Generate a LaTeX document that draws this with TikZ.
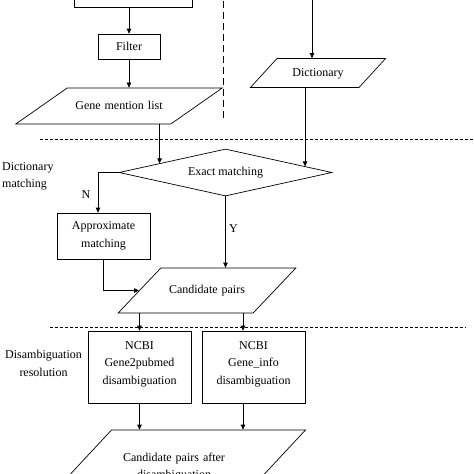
\documentclass[tikz,border=0pt]{standalone}
\usepackage{fontspec}
\setmainfont{Liberation Serif}
\usetikzlibrary{shapes.geometric,arrows.meta,calc}

\begin{document}
\begin{tikzpicture}[x=1pt,y=-1pt,
	every node/.style={font=\fontsize{12}{17.5}\selectfont},
	stepbox/.style={draw,line width=0.7pt,rectangle,align=center,inner sep=0pt},
	databox/.style={draw,line width=0.7pt,trapezium,align=center,inner xsep=0pt},
	oneline/.style={text height=8.5pt,text depth=2.5pt},
	testbox/.style={draw,line width=0.7pt,diamond,inner sep=0pt},
	flow/.style={line width=0.7pt,-{Triangle[length=5pt,width=4.5pt]}},
	sepline/.style={line width=0.6pt,dash pattern=on 3pt off 2pt}]
	% frame of the figure
	\useasboundingbox (0,0) rectangle (474,474);
	\clip (0,0) rectangle (474,474);
	
	% separators between the stages
	\draw[line width=0.6pt,dash pattern=on 7pt off 4pt] (223,-10) -- (223,118);
	\draw[sepline] (40,139) -- (474,139);
	\draw[sepline] (50,327) -- (466,327);
	
	% stage labels
	\node[align=left,anchor=west,inner sep=0pt] (lbldict) at (2,176.5) {Dictionary\\matching};
	\node[align=center,inner sep=0pt] (lbldis) at (43.5,363.5) {Disambiguation\\resolution};
	
	% boxes
	\node[stepbox,minimum width=118pt,minimum height=40pt] (ner) at (133,-13) {};
	\node[stepbox,minimum width=62pt,minimum height=25pt] (filter) at (129,46.5) {Filter};
	\node[databox,oneline,trapezium left angle=35,trapezium right angle=145,text width=103.6pt,inner ysep=12.5pt] (genelist) at (119,106) {Gene mention list};
	\node[databox,oneline,trapezium left angle=47.5,trapezium right angle=132.5,text width=82pt,inner ysep=9pt] (dict) at (318,73) {Dictionary};
	\node[testbox,aspect=4.53,minimum width=213pt,minimum height=47pt] (exact) at (225.5,172.5) {Exact matching};
	\node[stepbox,minimum width=93pt,minimum height=46pt] (approx) at (103.5,236) {Approximate\\matching};
	\node[databox,oneline,trapezium left angle=46.5,trapezium right angle=133.5,text width=92.3pt,inner ysep=17pt] (cand) at (207,290.5) {Candidate pairs};
	\node[stepbox,text depth=8pt,minimum width=103pt,minimum height=72pt] (gene2pub) at (139.5,367) {NCBI\\Gene2pubmed\\disambiguation};
	\node[stepbox,text depth=8pt,minimum width=103pt,minimum height=72pt] (geneinfo) at (253.5,367) {NCBI\\Gene\_info\\disambiguation};
	\node[databox,trapezium left angle=47,trapezium right angle=133,text width=125pt,inner ysep=22.7pt] (final) at (174,467) {Candidate pairs after\\disambiguation};
	
	% connectors
	\coordinate (dictsrc) at (312,-10);
	\coordinate (exactL) at ($(exact.west)!0.383!(exact.north)$);
	\coordinate (exactR) at ($(exact.north)!0.745!(exact.east)$);
	\coordinate (infoin) at ([xshift=-10.5pt]geneinfo.north);
	\coordinate (infoout) at ([xshift=-10.5pt]geneinfo.south);
	\draw[flow] (ner.south -| filter.north) -- (filter.north);
	\draw[flow] (filter.south) -- (filter.south |- genelist.north);
	\draw[flow] (dictsrc) -- (dictsrc |- dict.north);
	\draw[flow] (genelist.south -| exactL) -- (exactL);
	\draw[flow] (dict.south -| exactR) -- (exactR);
	\draw[flow] (exact.west) -| ([xshift=-5.5pt]approx.north) node[pos=0.78,left=4pt] {N};
	\draw[flow] (exact.south) -- (exact.south |- cand.north) node[pos=0.45,right=0pt] {Y};
	\draw[flow] (approx.south) |- (cand.west);
	\draw[flow] (cand.south -| gene2pub.north) -- (gene2pub.north);
	\draw[flow] (cand.south -| infoin) -- (infoin);
	\draw[flow] (gene2pub.south) -- (gene2pub.south |- final.north);
	\draw[flow] (infoout) -- (infoout |- final.north);
\end{tikzpicture}
\end{document}
